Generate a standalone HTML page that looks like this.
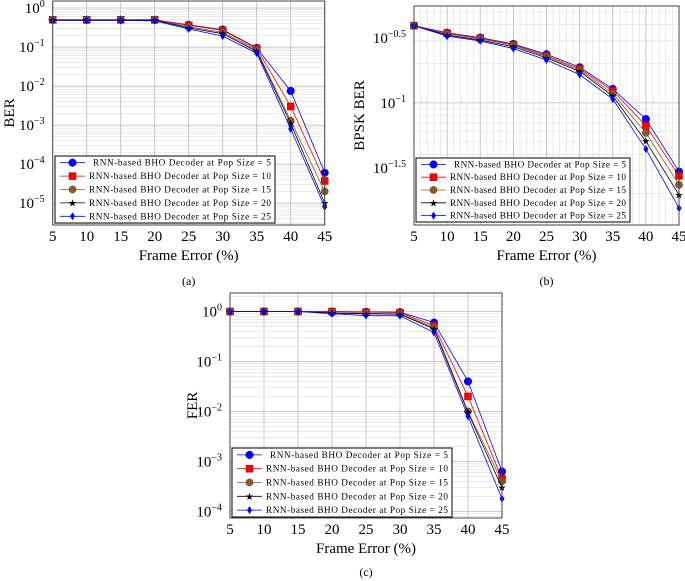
<!DOCTYPE html>
<html><head><meta charset="utf-8"><style>
body{margin:0;background:#fff;}
svg{display:block;font-family:"Liberation Serif",serif;}
</style></head><body>
<svg id="s" width="685" height="581" viewBox="0 0 685 581"></svg>
<script>
const xCats=[5,10,15,20,25,30,35,40,45];
const seriesNames=["RNN-based BHO Decoder at Pop Size = 5","RNN-based BHO Decoder at Pop Size = 10","RNN-based BHO Decoder at Pop Size = 15","RNN-based BHO Decoder at Pop Size = 20","RNN-based BHO Decoder at Pop Size = 25"];
const berA5=[0.5,0.5,0.5,0.5,0.37,0.28,0.095,0.0075,6e-5];
const berA10=[0.5,0.5,0.5,0.5,0.36,0.27,0.092,0.003,3.7e-5];
const berA15=[0.5,0.5,0.5,0.5,0.33,0.24,0.085,0.0013,2e-5];
const berA20=[0.49,0.49,0.49,0.49,0.31,0.22,0.078,0.0011,1e-5];
const berA25=[0.48,0.48,0.48,0.47,0.29,0.19,0.07,0.0008,8e-6];
const berB5=[0.393,0.347,0.318,0.284,0.237,0.188,0.128,0.075,0.0296];
const berB10=[0.393,0.344,0.315,0.281,0.231,0.183,0.124,0.0668,0.0274];
const berB15=[0.393,0.340,0.311,0.278,0.227,0.179,0.118,0.0588,0.0234];
const berB20=[0.393,0.333,0.305,0.271,0.222,0.175,0.113,0.0507,0.0196];
const berB25=[0.393,0.327,0.300,0.262,0.214,0.165,0.107,0.0441,0.0155];
const ferC5=[1,1,1,1,0.98,0.97,0.6,0.04,6.3e-4];
const ferC10=[1,1,1,1,0.97,0.95,0.52,0.02,4.5e-4];
const ferC15=[1,1,1,0.95,0.92,0.9,0.48,0.01,4e-4];
const ferC20=[1,1,1,0.93,0.9,0.88,0.45,0.0095,3e-4];
const ferC25=[1,1,1,0.9,0.83,0.82,0.38,0.008,1.8e-4];
const yTicksA=[0,-1,-2,-3,-4,-5];
const yTicksB=[-0.5,-1,-1.5];
const yTicksC=[0,-1,-2,-3,-4];

const NS="http://www.w3.org/2000/svg";
const svg=document.getElementById('s');
function el(t,a,p){const e=document.createElementNS(NS,t);for(const k in a)e.setAttribute(k,a[k]);(p||svg).appendChild(e);return e;}
const colors=["#0000ff","#ff0000","#8b5a2b","#000000","#0000ff"];
function marker(g,k,x,y,s){
  const c=colors[k];let m;
  if(k===0)m=el('circle',{cx:x,cy:y,r:3.8*s,fill:c,stroke:'#0000aa','stroke-width':0.5},g);
  else if(k===1)m=el('rect',{x:x-3.5*s,y:y-3.5*s,width:7*s,height:7*s,fill:c,stroke:'#aa0000','stroke-width':0.5},g);
  else if(k===2)m=el('circle',{cx:x,cy:y,r:3.6*s,fill:c,stroke:'#5a3a1a','stroke-width':0.5},g);
  else if(k===3){m=el('text',{x:x,y:y+3.5*s,'text-anchor':'middle','font-size':10*s,fill:'#000'},g);m.textContent='★';}
  else m=el('polygon',{points:`${x},${y-4*s} ${x+2.5*s},${y} ${x},${y+4*s} ${x-2.5*s},${y}`,fill:c},g);
  
  
}
function chart(o){
  const g=el('g',{});
  
  
  const X=v=>o.L+(v-5)/40*(o.R-o.L);
  const Y=v=>o.T+(o.lmax-Math.log10(v))/(o.lmax-o.lmin)*(o.B-o.T);
  const Yl=l=>o.T+(o.lmax-l)/(o.lmax-o.lmin)*(o.B-o.T);
  for(let d=Math.floor(o.lmin);d<=Math.ceil(o.lmax);d++){
    for(let m=1;m<10;m++){const l=d+Math.log10(m);if(l<o.lmin||l>o.lmax)continue;
      el('line',{x1:o.L,x2:o.R,y1:Yl(l),y2:Yl(l),stroke:m===1?'#bbb':'#ddd','stroke-width':m===1?0.8:0.6},g);}
  }
  if(o.minorX){for(let v=5;v<=45;v++)el('line',{x1:X(v),x2:X(v),y1:o.T,y2:o.B,stroke:'#ddd','stroke-width':0.6},g);}
  xCats.forEach(v=>el('line',{x1:X(v),x2:X(v),y1:o.T,y2:o.B,stroke:'#bbb','stroke-width':0.8},g));
  o.data.forEach((arr,k)=>{
    const pts=arr.map((v,i)=>X(xCats[i])+','+Y(v)).join(' ');
    const pl=el('polyline',{points:pts,fill:'none',stroke:colors[k],'stroke-width':0.8},g);
    
    
    arr.forEach((v,i)=>marker(g,k,X(xCats[i]),Y(v),1));
  });
  el('rect',{x:o.L,y:o.T,width:o.R-o.L,height:o.B-o.T,fill:'none',stroke:'#444','stroke-width':1},g);
  xCats.forEach(v=>{const t=el('text',{x:X(v),y:o.B+16,'text-anchor':'middle','font-size':15},g);t.textContent=v;
    });
  o.yt.forEach(l=>{const t=el('text',{x:o.L-8,y:Yl(l)+5,'text-anchor':'end','font-size':15},g);
    t.innerHTML='10<tspan dy="-6" font-size="10">'+(l<0?'−'+(-l):l)+'</tspan>';
    });
  const xt=el('text',{x:(o.L+o.R)/2,y:o.B+35,'text-anchor':'middle','font-size':15},g);xt.textContent='Frame Error (%)';
  
  const yt=el('text',{x:o.ytx,y:(o.T+o.B)/2,'text-anchor':'middle','font-size':15,transform:`rotate(-90 ${o.ytx} ${(o.T+o.B)/2})`},g);yt.textContent=o.ylabel;
  
  const cap=el('text',{x:(o.L+o.R)/2,y:o.capY,'text-anchor':'middle','font-size':12},g);cap.textContent=o.cap;
  
  const lg=el('g',{},g);
  
  const [lx,ly,lw,lh]=o.leg;
  el('rect',{x:lx,y:ly,width:lw,height:lh,fill:'#fff',stroke:'#000','stroke-width':1},lg);
  seriesNames.forEach((n,k)=>{const yy=ly+lh*(k+0.5)/5;
    const e=el('g',{},lg);
    el('line',{x1:lx+5,x2:lx+30,y1:yy,y2:yy,stroke:colors[k],'stroke-width':0.8},e);
    marker(e,k,lx+17.5,yy,1);
    const tl=k===0?lw-72:lw-68;
    const t=el('text',{x:lx+(k===0?38:34),y:yy+3,'font-size':9.2,textLength:tl*1.0+30,lengthAdjust:'spacing'},e);t.textContent=n;});
}
chart({name:'chart-a-ber',L:52.7,R:324.7,T:1,B:225,lmax:0.18,lmin:-5.56,yt:yTicksA,data:[berA5,berA10,berA15,berA20,berA25],ylabel:'BER',ytx:14,cap:'(a)',capY:285,leg:[55,156,220,67]});
chart({name:'chart-b-bpsk-ber',L:414,R:679,T:6,B:225,lmax:-0.254,lmin:-1.94,yt:yTicksB,data:[berB5,berB10,berB15,berB20,berB25],ylabel:'BPSK BER',ytx:364,cap:'(b)',capY:285,leg:[416,158,214,64],minorX:true});
chart({name:'chart-c-fer',L:230,R:502,T:293,B:518,lmax:0.37,lmin:-4.13,yt:yTicksC,data:[ferC5,ferC10,ferC15,ferC20,ferC25],ylabel:'FER',ytx:197,cap:'(c)',capY:576,leg:[232,448,220,69]});
</script>
</body></html>
